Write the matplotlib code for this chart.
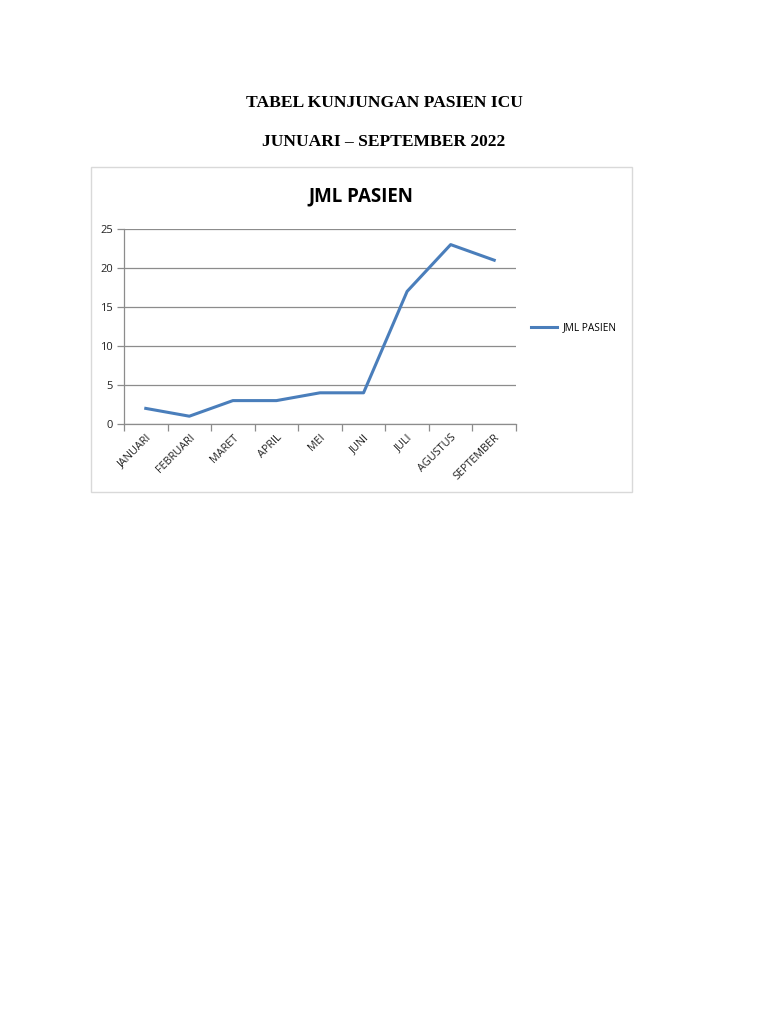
import matplotlib
matplotlib.use("Agg")
import matplotlib.pyplot as plt
from matplotlib.patches import Rectangle
import numpy as np

months = ["JANUARI", "FEBRUARI", "MARET", "APRIL", "MEI", "JUNI", "JULI", "AGUSTUS", "SEPTEMBER"]
jml_pasien = [2, 1, 3, 3, 4, 4, 17, 23, 21]
y_ticks = [0, 5, 10, 15, 20, 25]
series_name = "JML PASIEN"

W, H = 768, 1024
fig = plt.figure(figsize=(W / 100, H / 100), dpi=100)
fig.patch.set_facecolor("white")

def fx(px):
    return px / W

def fy(py):
    return 1 - py / H

# Page header
fig.text(fx(384), fy(103), "TABEL KUNJUNGAN PASIEN ICU", ha="center", va="center",
         fontsize=12.6, fontweight="bold", family="Liberation Serif", color="black")
fig.text(fx(384), fy(142), "JUNUARI \u2013 SEPTEMBER 2022", ha="center", va="center",
         fontsize=12.6, fontweight="bold", family="Liberation Serif", color="black")

# Chart border
fig.patches.append(Rectangle((fx(91), fy(492)), fx(632) - fx(91), fy(167) - fy(492),
                             transform=fig.transFigure, fill=False, edgecolor="#d9d9d9",
                             linewidth=1.0))

fig.text(fx(361), fy(196), "JML PASIEN", ha="center", va="center",
         fontsize=13.5, fontweight="bold", family="Open Sans", color="black")

ax = fig.add_axes([fx(124), fy(424), fx(516) - fx(124), fy(229) - fy(424)])
x = np.arange(len(months))
line, = ax.plot(x, jml_pasien, color="#4a7ebb", linewidth=2.2, solid_joinstyle="round",
                label=series_name)
ax.set_xlim(-0.5, len(months) - 0.5)
ax.set_ylim(0, 25)
ax.set_yticks(y_ticks)
ax.set_yticklabels([str(v) for v in y_ticks], fontsize=8, family="Open Sans", color="#222222")
ax.yaxis.grid(True, color="#8c8c8c", linewidth=0.9)
ax.set_axisbelow(True)

ax.set_xticks(x)
ax.set_xticklabels(months, rotation=45, ha="right", va="top", rotation_mode="anchor",
                   fontsize=7.8, family="Open Sans", color="#222222")
ax.tick_params(axis="x", which="major", length=0, pad=6)
ax.set_xticks(np.arange(-0.5, len(months)), minor=True)
ax.tick_params(axis="x", which="minor", length=5, color="#8c8c8c", width=0.9)
ax.tick_params(axis="y", length=5, color="#8c8c8c", width=0.9, pad=3)

for s in ["top", "right"]:
    ax.spines[s].set_visible(False)
for s in ["left", "bottom"]:
    ax.spines[s].set_color("#8c8c8c")
    ax.spines[s].set_linewidth(0.9)

leg = fig.legend(handles=[line], loc="center left", bbox_to_anchor=(fx(522), fy(328)),
                 frameon=False, prop={"family": "Open Sans", "size": 7.3},
                 handlelength=2.6, handletextpad=0.5)

fig.savefig("out.png", dpi=100, facecolor="white")
